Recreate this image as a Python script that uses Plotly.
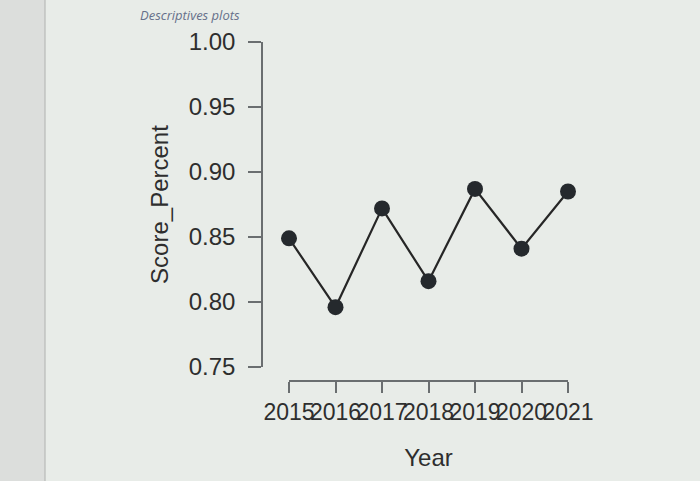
import plotly.graph_objects as go

years = [2015, 2016, 2017, 2018, 2019, 2020, 2021]
score_percent = [0.849, 0.796, 0.872, 0.816, 0.887, 0.841, 0.885]
y_ticks = [0.75, 0.80, 0.85, 0.90, 0.95, 1.00]
y_tick_labels = ["0.75", "0.80", "0.85", "0.90", "0.95", "1.00"]
x_tick_labels = [str(y) for y in years]

W, H = 700, 481
L, R, T, B = 250, 100, 42, 100
pw = W - L - R
ph = H - T - B
BG = "#e8ece8"

fig = go.Figure()
fig.add_trace(go.Scatter(
    x=years, y=score_percent, mode="lines+markers",
    line=dict(color="#262626", width=2.2),
    marker=dict(color="#25292d", size=16),
    cliponaxis=False, showlegend=False,
))

fig.update_layout(
    width=W, height=H,
    margin=dict(l=L, r=R, t=T, b=B),
    paper_bgcolor=BG,
    plot_bgcolor="rgba(0,0,0,0)",
    font=dict(family="Liberation Sans, Arial, sans-serif", color="#2e2e2e"),
    xaxis=dict(
        domain=[(289 - L) / pw, (568 - L) / pw],
        range=[years[0], years[-1]],
        tickmode="array", tickvals=years, ticktext=x_tick_labels,
        tickangle=0,
        showgrid=False, zeroline=False,
        showline=True, linecolor="#6a6e70", linewidth=1.5,
        ticks="outside", ticklen=11, tickwidth=1.5, tickcolor="#6a6e70",
        tickfont=dict(size=23, color="#2e2e2e"),
        anchor="free", position=0,
        title=dict(text="Year", font=dict(size=24, color="#2e2e2e"), standoff=24),
    ),
    yaxis=dict(
        domain=[(381 - 367) / ph, 1],
        range=[0.75, 1.00],
        tickmode="array", tickvals=y_ticks, ticktext=y_tick_labels,
        showgrid=False, zeroline=False,
        showline=True, linecolor="#6a6e70", linewidth=1.5,
        ticks="outside", ticklen=13, tickwidth=1.5, tickcolor="#6a6e70",
        tickfont=dict(size=24, color="#2e2e2e"),
        ticklabelstandoff=8,
        anchor="free", position=(262 - L) / pw,
        title=dict(text="Score_Percent", font=dict(size=24, color="#2e2e2e"), standoff=12),
    ),
    shapes=[
        dict(type="rect", xref="paper", yref="paper", x0=-L / pw, x1=(45 - L) / pw,
             y0=-B / ph, y1=1 + T / ph, fillcolor="#dcdedc", line=dict(width=0), layer="below"),
        dict(type="line", xref="paper", yref="paper", x0=(45 - L) / pw, x1=(45 - L) / pw,
             y0=-B / ph, y1=1 + T / ph, line=dict(color="#b8bab8", width=1.2), layer="below"),
    ],
    annotations=[
        dict(text="<i>Descriptives plots</i>", xref="paper", yref="paper",
             x=(138 - L) / pw, y=1 + (T - 15) / ph, xanchor="left", yanchor="middle",
             showarrow=False, font=dict(family="Open Sans, sans-serif", size=13, color="#66708a")),
    ],
)

fig.write_html(
    "out.html",
    config={"displayModeBar": False},
    post_script="document.body.style.margin='0';document.body.style.overflow='hidden';"
                "document.body.style.background='" + BG + "';",
)
